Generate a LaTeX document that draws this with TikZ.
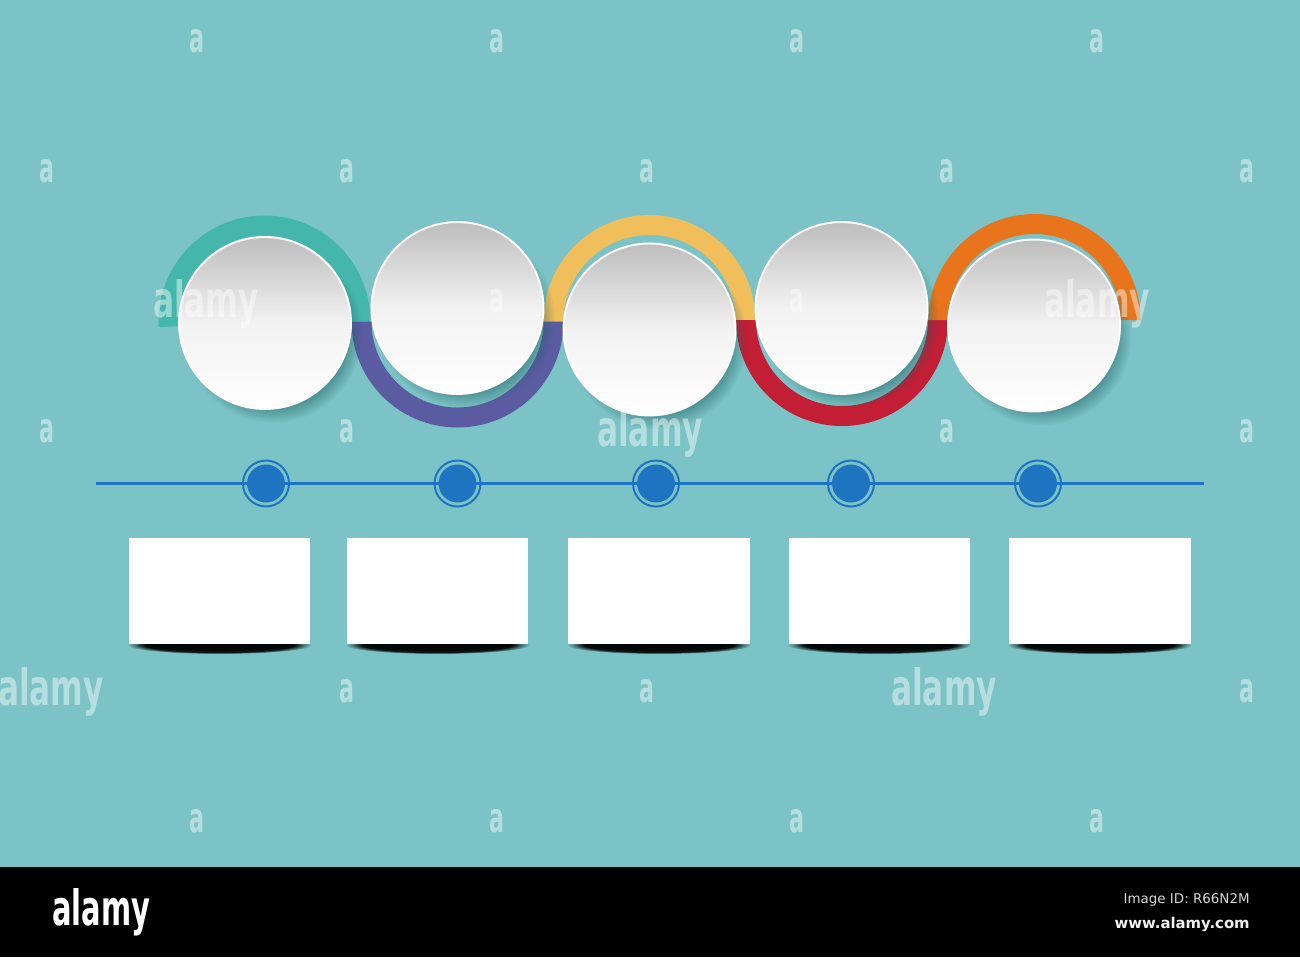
\documentclass[tikz,border=0pt]{standalone}
\usepackage{graphicx}
\usepackage{fontspec}
\setmainfont{DejaVu Sans}
\usetikzlibrary{shadows,fadings}
\definecolor{bgc}{HTML}{7BC3C6}
\definecolor{cteal}{HTML}{45B6AC}
\definecolor{cpurple}{HTML}{5B5BA1}
\definecolor{cyellow}{HTML}{F0BF5C}
\definecolor{cred}{HTML}{C21E36}
\definecolor{corange}{HTML}{E8741C}
\definecolor{cblue}{HTML}{1F74C1}
\definecolor{shadowc}{HTML}{1F5E60}
\definecolor{disctop}{HTML}{BDBDBD}
\definecolor{discmid}{HTML}{F2F2F2}
\newcommand{\wmsmall}{\resizebox{0.3cm}{0.46cm}{\bfseries a}}
\newcommand{\wmbig}{\resizebox{2.12cm}{0.76cm}{\bfseries alamy}}
\tikzset{
  disc/.style={circle, inner sep=0pt, minimum size=3.44cm, draw=white, line width=1.1pt,
    top color=disctop, bottom color=white, middle color=discmid,
    circular drop shadow={shadow xshift=0.15cm, shadow yshift=-0.2cm, shadow scale=1.04,
      opacity=0.55, fill=shadowc, path fading=circle with fuzzy edge 20 percent}},
  dotfill/.style={circle, inner sep=0pt, minimum size=0.76cm, fill=cblue},
  dotring/.style={circle, inner sep=0pt, minimum size=0.92cm, draw=cblue, line width=0.04cm},
  card/.style={rectangle, inner sep=0pt, minimum width=3.64cm, minimum height=2.12cm, fill=white},
  cardshadow/.style={fill=black, path fading=circle with fuzzy edge 20 percent},
  wm/.style={inner sep=0pt, anchor=base, text=white, text opacity=0.45},
}
\begin{document}
\begin{tikzpicture}[x=0.02cm, y=-0.02cm]
\fill[bgc] (0,0) rectangle (1300,867);
\fill[black] (0,867) rectangle (1300,957);
\useasboundingbox (0,0) rectangle (1300,957);

% coloured bands
\fill[cteal] (264.5,321.5) ++(177:106) arc[start angle=177, end angle=360, radius=106]
  -- ++(-20,0) arc[start angle=360, end angle=177, radius=86] -- cycle;
\fill[cpurple] (457.5,321.5) ++(180:106) arc[start angle=180, end angle=0, radius=106]
  -- ++(-20,0) arc[start angle=0, end angle=180, radius=86] -- cycle;
\fill[cyellow] (649.5,321) ++(180:106) arc[start angle=180, end angle=360, radius=106]
  -- ++(-20,0) arc[start angle=360, end angle=180, radius=86] -- cycle;
\fill[cred] (842,320) ++(180:106) arc[start angle=180, end angle=0, radius=106]
  -- ++(-20,0) arc[start angle=0, end angle=180, radius=86] -- cycle;
\fill[corange] (1034.5,320) ++(180:106) arc[start angle=180, end angle=360, radius=106]
  -- ++(-20,0) arc[start angle=360, end angle=180, radius=86] -- cycle;

% discs
\node[disc] (c1) at (265,323) {};
\node[disc] (c2) at (457.5,308) {};
\node[disc] (c3) at (649.5,329.5) {};
\node[disc] (c4) at (841.5,308) {};
\node[disc] (c5) at (1034,325.5) {};

% timeline
\coordinate (tlL) at (96,483);
\coordinate (tlR) at (1204,483);
\draw[cblue, line width=0.06cm] (tlL) -- (tlR);
\foreach \i/\x in {1/266,2/457.5,3/656,4/851,5/1038}{
  \node[dotring] (r\i) at (\x,483.5) {};
  \node[dotfill] (d\i) at (\x,483.5) {};
}

% cards with shadows
\foreach \i/\x in {1/219.5,2/437.5,3/659,4/879.5,5/1099.5}{
  \fill[cardshadow, opacity=0.9] (\x,645) ellipse[x radius=92, y radius=9];
  \fill[cardshadow, opacity=0.6] (\x,645) ellipse[x radius=84, y radius=6];
  \node[card] (b\i) at (\x,591) {};
}

% watermarks
\foreach \x/\y [count=\k] in {197/52,497/52,797/52,1097/52,
    47/182,347/182,647/182,947/182,1247/182,
    497/312,797/312,
    47/442,347/442,947/442,1247/442,
    347/702,647/702,1247/702,
    197/832,497/832,797/832,1097/832}{
  \node[wm] (wa\k) at (\x,\y) {\wmsmall};
}
\foreach \x/\y [count=\k] in {206/317,1097/317,650/446,51/705,944/705}{
  \node[wm] (wb\k) at (\x,\y) {\wmbig};
}

% footer
\node[inner sep=0pt, anchor=base west, text=white] (logo) at (52,925) {\resizebox{1.96cm}{0.74cm}{\bfseries alamy}};
\node[inner sep=0pt, anchor=east, text=white!85!black] (imgid) at (1250,900) {\resizebox{2.52cm}{!}{Image ID: R66N2M}};
\node[inner sep=0pt, anchor=east, text=white!95!black] (url) at (1250,924) {\resizebox{2.7cm}{!}{\bfseries www.alamy.com}};
\end{tikzpicture}
\end{document}
